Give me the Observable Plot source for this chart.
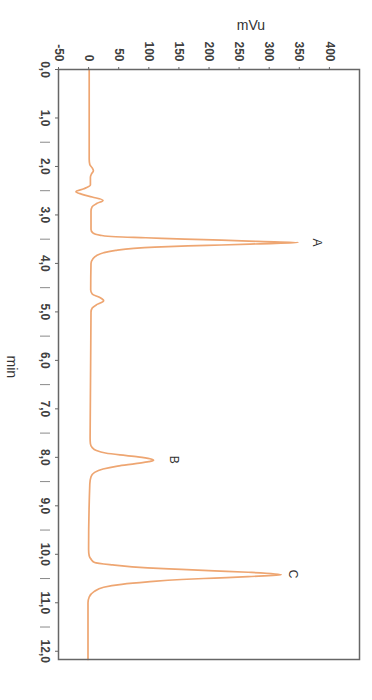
<!DOCTYPE html>
<html>
<head>
<meta charset="utf-8">
<script src="https://cdn.jsdelivr.net/npm/d3@7"></script>
<script src="https://cdn.jsdelivr.net/npm/@observablehq/plot@0.6"></script>
<style>
  html, body { margin: 0; padding: 0; background: #fff; }
</style>
</head>
<body>
<div id="chart"></div>
<script>
// Retention time (min) and detector signal (mVu)
const times = [0.00, 1.85, 1.96, 2.03, 2.09, 2.15, 2.22, 2.38, 2.46, 2.52, 2.57, 2.63, 2.70, 2.76, 2.83, 2.92,
  3.30, 3.37, 3.42, 3.45, 3.47, 3.50, 3.52, 3.545, 3.57, 3.595, 3.62, 3.64, 3.665, 3.69, 3.73, 3.78, 3.84, 3.91, 4.00,
  4.55, 4.63, 4.70, 4.77, 4.84, 4.92, 5.00,
  7.60, 7.72, 7.80, 7.86, 7.91, 7.95, 7.99, 8.03, 8.06, 8.09, 8.13, 8.18, 8.24, 8.31, 8.40, 8.55,
  9.90, 10.03, 10.10, 10.17, 10.22, 10.28, 10.31, 10.34, 10.37, 10.42, 10.46, 10.49, 10.52, 10.57, 10.62, 10.68, 10.77, 10.88, 11.00, 12.17];
const signal = [1, 1, 2, 6, 8, 5, 3, 3, -8, -21, -12, 6, 24, 14, 6, 4,
  4, 7, 20, 45, 95, 160, 221, 280, 348, 285, 221, 165, 110, 75, 45, 25, 13, 7, 4,
  3.5, 6, 18, 25, 15, 6, 4,
  2.5, 3, 6, 13, 28, 52, 82, 102, 108, 100, 78, 48, 24, 10, 4, 2,
  0, 1, 4, 10, 40, 98, 154, 209, 265, 320, 265, 209, 154, 98, 55, 25, 9, 1, -1, -1];

// Peak labels
const peakNames = ["A", "B", "C"];
const peakTimes = [3.57, 8.05, 10.41];
const peakLabelValues = [379, 141, 340];

// Axis ticks
const mvTicks = [-50, 0, 50, 100, 150, 200, 250, 300, 350, 400];
const timeTicks = [0, 1, 2, 3, 4, 5, 6, 7, 8, 9, 10, 11, 12];
const halfTicks = [1.5, 2.5, 3.5, 4.5, 5.5, 6.5, 7.5, 8.5, 9.5, 10.5, 11.5];
const xLabel = "mVu";
const yLabel = "min";

const data = times.map((t, i) => ({t, v: signal[i]}));
const peaks = peakNames.map((n, i) => ({n, t: peakTimes[i], v: peakLabelValues[i]}));

const chart = Plot.plot({
  width: 372,
  height: 700,
  marginTop: 69,
  marginLeft: 58,
  marginRight: 13,
  marginBottom: 41,
  style: {fontFamily: "'Liberation Sans', Arial, sans-serif", background: "#fff"},
  x: {domain: [-50, 450]},
  y: {domain: [0, 12.17], reverse: true},
  marks: [
    Plot.axisX({anchor: "top", ticks: mvTicks, tickSize: 3, tickPadding: 5, tickRotate: 90,
      textAnchor: "end", lineAnchor: "middle", tickFormat: d => String(d),
      fontSize: 12, fontWeight: "bold", fill: "#404040", stroke: "#666", label: null}),
    Plot.axisY({anchor: "left", ticks: timeTicks, tickSize: 3, tickPadding: 11, tickRotate: 90,
      textAnchor: "middle", lineAnchor: "middle", tickFormat: d => d.toFixed(1).replace(".", ","),
      fontSize: 12, fontWeight: "bold", fill: "#404040", stroke: "#666", label: null}),
    Plot.axisY({anchor: "left", ticks: halfTicks, tickSize: 10, dx: -8, fill: "none",
      stroke: "#8a8a8a", label: null}),
    Plot.line(data, {x: "v", y: "t", stroke: "#eea672", strokeWidth: 1.7, curve: "monotone-y"}),
    Plot.text(peaks, {x: "v", y: "t", text: "n", rotate: 90, fontSize: 12, fill: "#333"}),
    Plot.text([xLabel], {text: d => d, frameAnchor: "top", dx: 42, dy: -49, fontSize: 14, fill: "#333"}),
    Plot.text([yLabel], {text: d => d, frameAnchor: "left", dx: -47, dy: -9, rotate: 90, fontSize: 14, fill: "#333"}),
    Plot.frame({stroke: "#666", strokeWidth: 1.5})
  ]
});
document.getElementById("chart").appendChild(chart);
</script>
</body>
</html>
